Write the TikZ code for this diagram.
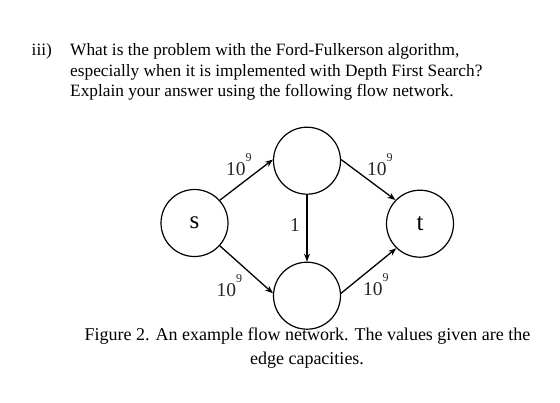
\documentclass[tikz,border=0pt]{standalone}
\usepackage{fontspec}
\setmainfont{Liberation Serif}
\usetikzlibrary{arrows.meta}
\newcommand\tenpow{10\raisebox{14pt}{\fontsize{12}{12}\selectfont 9}}
\begin{document}
\begin{tikzpicture}[x=1pt,y=-1pt,
  vert/.style={draw,circle,line width=1.2pt,minimum size=67pt,inner sep=0pt,font=\fontsize{25}{25}\selectfont},
  flowedge/.style={line width=1.3pt,-{Stealth[length=8pt,width=6pt]}},
  caplabel/.style={anchor=base west,inner sep=0pt,font=\fontsize{19.5}{19.5}\selectfont,text=black!85},
  txt/.style={anchor=base west,inner sep=0pt,font=\fontsize{17.3}{20}\selectfont},
  captxt/.style={anchor=base,inner sep=0pt,font=\fontsize{18}{20}\selectfont}]
\useasboundingbox (0,0) rectangle (560,402);
\node[txt] (q0) at (31.5,55.7) {iii)};
\node[txt] (q1) at (70,55.7) {What is the problem with the Ford-Fulkerson algorithm,};
\node[txt] (q2) at (70,76.2) {especially when it is implemented with Depth First Search?};
\node[txt] (q3) at (70,96.7) {Explain your answer using the following flow network.};
\node[vert] (s) at (194.5,223) {s};
\node[vert] (a) at (307,160.7) {};
\node[vert] (b) at (307,295.7) {};
\node[vert] (t) at (420,223.7) {t};
\draw[flowedge] (s.42) -- (a.178);
\draw[flowedge] (a.2) -- (t.136);
\draw[flowedge] (s.-42) -- (b.176);
\draw[flowedge] (b.4) -- (t.-134);
\draw[flowedge] (a.south) -- (b.north);
\node[caplabel] (l1) at (226,175) {\tenpow};
\node[caplabel] (l2) at (367,175) {\tenpow};
\node[caplabel] (l3) at (216.5,296.5) {\tenpow};
\node[caplabel] (l4) at (363,295) {\tenpow};
\node[caplabel] (l5) at (290,231.7) {1};
\node[captxt] (c1) at (307.5,340) {Figure 2. An example flow network. The values given are the};
\node[captxt] (c2) at (307,364) {edge capacities.};
\end{tikzpicture}
\end{document}
